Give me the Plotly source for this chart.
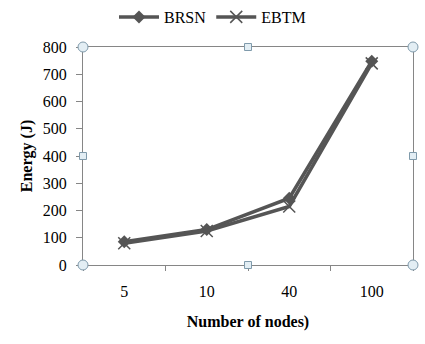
import plotly.graph_objects as go

categories = ["5", "10", "40", "100"]
brsn = [85, 130, 245, 748]
ebtm = [80, 125, 215, 740]
y_ticks = [0, 100, 200, 300, 400, 500, 600, 700, 800]

font = "Liberation Serif, Times New Roman, serif"
line_col = "#555555"

fig = go.Figure()
fig.add_trace(go.Scatter(
    x=categories, y=brsn, name="BRSN", mode="lines+markers",
    line=dict(color=line_col, width=3.5),
    marker=dict(symbol="diamond", size=10, color=line_col),
    cliponaxis=False))
fig.add_trace(go.Scatter(
    x=categories, y=ebtm, name="EBTM", mode="lines+markers",
    line=dict(color=line_col, width=3.5),
    marker=dict(symbol="x-thin", size=12, color=line_col,
                line=dict(color=line_col, width=1.5)),
    cliponaxis=False))

axis_col = "#868686"
fig.update_layout(
    width=425, height=344,
    margin=dict(l=83, r=12, t=47, b=79, autoexpand=False),
    paper_bgcolor="white", plot_bgcolor="white",
    font=dict(family=font, size=16, color="#000000"),
    showlegend=True,
    legend=dict(orientation="h", x=0.5, xanchor="center", xref="container",
                y=1.0, yanchor="top", yref="container",
                font=dict(family=font, size=16), itemwidth=40,
                tracegroupgap=0, bgcolor="rgba(0,0,0,0)"),
    xaxis=dict(type="category", range=[-0.5, 3.5], showgrid=False,
               showline=True, linecolor=axis_col, linewidth=1, mirror=True,
               ticks="outside", tickson="boundaries", ticklen=5, tickcolor=axis_col,
               ticklabelstandoff=12,
               tickfont=dict(family=font, size=16), zeroline=False,
               title=dict(text="<b>Number of nodes)</b>", standoff=16,
                          font=dict(family=font, size=16))),
    yaxis=dict(range=[0, 800], tickvals=y_ticks, showgrid=False,
               showline=True, linecolor=axis_col, linewidth=1, mirror=True,
               ticks="outside", ticklen=6, tickcolor=axis_col,
               ticklabelstandoff=6,
               tickfont=dict(family=font, size=16), zeroline=False,
               title=dict(text="<b>Energy (J)</b>", standoff=6,
                          font=dict(family=font, size=16))),
)

# selection handles (Excel-style)
handles = [(0, 0, "circle"), (1, 0, "circle"), (0, 1, "circle"), (1, 1, "circle"),
           (0.5, 0, "rect"), (0.5, 1, "rect"), (0, 0.5, "rect"), (1, 0.5, "rect")]
for hx, hy, kind in handles:
    r = 5 if kind == "circle" else 3.5
    fig.add_shape(type=kind, xref="paper", yref="paper",
                  xsizemode="pixel", ysizemode="pixel",
                  xanchor=hx, yanchor=hy, x0=-r, x1=r, y0=-r, y1=r,
                  line=dict(color="#7f9aab", width=1), fillcolor="#e3eef4",
                  layer="above")

fig.write_html("out.html")
